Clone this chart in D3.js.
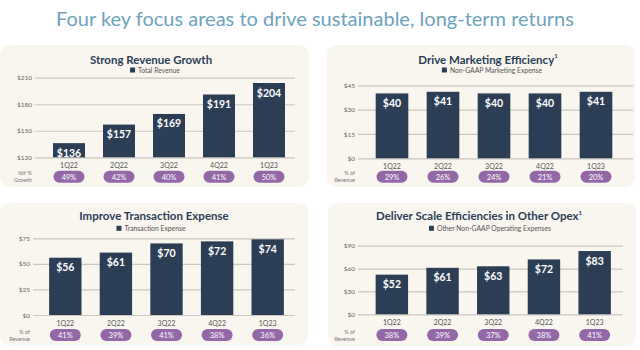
<!DOCTYPE html>
<html>
<head>
<meta charset="utf-8">
<script src="https://cdn.jsdelivr.net/npm/d3@7"></script>
<style>
  body { margin: 0; background: #ffffff; }
  svg { display: block; font-family: Lato, "Open Sans", sans-serif; }
</style>
</head>
<body>
<div id="chart-area"></div>
<script>
// data
var quarters = ["1Q22", "2Q22", "3Q22", "4Q22", "1Q23"];

var revenue = [136, 157, 169, 191, 204];
var revenueGrowth = ["49%", "42%", "40%", "41%", "50%"];
var revenueTicks = [120, 150, 180, 210];

var marketing = [40, 41, 40, 40, 41];
var marketingPct = ["29%", "26%", "24%", "21%", "20%"];
var marketingTicks = [0, 15, 30, 45];

var transaction = [56, 61, 70, 72, 74];
var transactionPct = ["41%", "39%", "41%", "38%", "36%"];
var transactionTicks = [0, 25, 50, 75];

var opex = [52, 61, 63, 72, 83];
var opexPct = ["38%", "39%", "37%", "38%", "41%"];
var opexTicks = [0, 30, 60, 90];

var navy = "#2b3e56";
var purple = "#9467a8";

var panels = [
  { title: "Strong Revenue Growth", sup: false, legend: "Total Revenue",
    values: revenue, pills: revenueGrowth, ticks: revenueTicks, rowLabel: ["YoY %", "Growth"],
    box: [0, 45, 309, 142], titleX: 151, legendX: 155, titleY: 59, legendY: 70,
    xr: [44, 294], yr: [157.3, 77.7], grid: [35, 295], pillY: 176.7 },
  { title: "Drive Marketing Efficiency", sup: true, legend: "Non-GAAP Marketing Expense",
    values: marketing, pills: marketingPct, ticks: marketingTicks, rowLabel: ["% of", "Revenue"],
    box: [327, 45, 308, 142], titleX: 488, legendX: 492, titleY: 59, legendY: 70,
    xr: [366.5, 621.5], yr: [158.3, 85.3], grid: [358, 633], pillY: 176.7 },
  { title: "Improve Transaction Expense", sup: false, legend: "Transaction Expense",
    values: transaction, pills: transactionPct, ticks: transactionTicks, rowLabel: ["% of", "Revenue"],
    box: [0, 203, 308, 142], titleX: 154, legendX: 151, titleY: 215.7, legendY: 228.3,
    xr: [40, 293], yr: [315, 238.3], grid: [33, 295], pillY: 335 },
  { title: "Deliver Scale Efficiencies in Other Opex", sup: true, legend: "Other Non-GAAP Operating Expenses",
    values: opex, pills: opexPct, ticks: opexTicks, rowLabel: ["% of", "Revenue"],
    box: [328, 203, 308, 143], titleX: 479, legendX: 490, titleY: 215.7, legendY: 228.3,
    xr: [366.5, 620], yr: [314.3, 245.7], grid: [358, 623], pillY: 335 }
];

var svg = d3.select("#chart-area")
  .append("svg")
  .attr("width", 640)
  .attr("height", 350);

svg.append("text")
  .attr("x", 315)
  .attr("y", 26)
  .attr("text-anchor", "middle")
  .attr("font-size", "20px")
  .style("fill", "#6ea3bd")
  .text("Four key focus areas to drive sustainable, long-term returns");

panels.forEach(function(p) {
  var g = svg.append("g");

  g.append("rect")
    .attr("x", p.box[0]).attr("y", p.box[1])
    .attr("width", p.box[2]).attr("height", p.box[3])
    .attr("rx", 9)
    .attr("fill", "#f9f6f0");

  var x = d3.scaleBand()
    .domain(quarters)
    .range(p.xr)
    .paddingInner(0.36)
    .paddingOuter(0.18);

  var y = d3.scaleLinear()
    .domain([p.ticks[0], p.ticks[p.ticks.length - 1]])
    .range(p.yr);

  // title
  var t = g.append("text")
    .attr("x", p.titleX)
    .attr("y", p.titleY)
    .attr("text-anchor", "middle")
    .attr("dominant-baseline", "central")
    .attr("font-size", "11.5px")
    .attr("font-weight", 700)
    .style("fill", navy)
    .text(p.title);
  if (p.sup) {
    t.append("tspan").attr("dy", -4).attr("font-size", "6px").text("1");
  }

  // legend
  var leg = g.append("text")
    .attr("x", p.legendX + 4)
    .attr("y", p.legendY)
    .attr("text-anchor", "middle")
    .attr("dominant-baseline", "central")
    .attr("font-size", "6.8px")
    .style("fill", "#555")
    .text(p.legend);
  var lw = leg.node().getComputedTextLength();
  g.append("rect")
    .attr("x", p.legendX + 4 - lw / 2 - 8)
    .attr("y", p.legendY - 2.5)
    .attr("width", 5).attr("height", 5)
    .attr("fill", navy);

  // y axis with gridlines
  var yAxisG = g.append("g")
    .attr("transform", "translate(" + p.grid[0] + ",0)")
    .call(d3.axisLeft(y)
      .tickValues(p.ticks)
      .tickSize(-(p.grid[1] - p.grid[0]))
      .tickPadding(3)
      .tickFormat(function(d) { return "$" + d; }));
  yAxisG.select(".domain").remove();
  yAxisG.selectAll(".tick line").style("stroke", "#c9c6c0").style("stroke-width", 1.2);
  yAxisG.selectAll("text")
    .attr("font-size", "6.5px")
    .attr("font-family", "Lato, sans-serif")
    .style("fill", "#666");

  // bars
  var bars = g.selectAll(".bar").data(p.values).enter();
  bars.append("rect")
    .attr("class", "bar")
    .attr("x", function(d, i) { return x(quarters[i]); })
    .attr("y", function(d) { return y(d); })
    .attr("width", x.bandwidth())
    .attr("height", function(d) { return p.yr[0] - y(d); })
    .attr("fill", navy);

  bars.append("text")
    .attr("x", function(d, i) { return x(quarters[i]) + x.bandwidth() / 2; })
    .attr("y", function(d) { return y(d) + 9.5; })
    .attr("text-anchor", "middle")
    .attr("dominant-baseline", "central")
    .attr("font-size", "10.5px")
    .attr("font-weight", 700)
    .style("fill", "white")
    .text(function(d) { return "$" + d; });

  // category labels
  g.selectAll(".cat").data(quarters).enter()
    .append("text")
    .attr("x", function(d) { return x(d) + x.bandwidth() / 2; })
    .attr("y", p.yr[0] + 7.5)
    .attr("text-anchor", "middle")
    .attr("dominant-baseline", "central")
    .attr("font-size", "7px")
    .style("fill", "#555")
    .text(function(d) { return d; });

  // pills
  g.selectAll(".pill").data(p.pills).enter()
    .append("rect")
    .attr("x", function(d, i) { return x(quarters[i]) + x.bandwidth() / 2 - 15.5; })
    .attr("y", p.pillY - 6)
    .attr("width", 31).attr("height", 12)
    .attr("rx", 6)
    .attr("fill", purple);

  g.selectAll(".pilltext").data(p.pills).enter()
    .append("text")
    .attr("x", function(d, i) { return x(quarters[i]) + x.bandwidth() / 2; })
    .attr("y", p.pillY + 0.5)
    .attr("text-anchor", "middle")
    .attr("dominant-baseline", "central")
    .attr("font-size", "7.5px")
    .style("fill", "white")
    .text(function(d) { return d; });

  // row label
  g.selectAll(".rowlab").data(p.rowLabel).enter()
    .append("text")
    .attr("x", p.grid[0] - 3)
    .attr("y", function(d, i) { return p.pillY - 3.5 + i * 7; })
    .attr("text-anchor", "end")
    .attr("dominant-baseline", "central")
    .attr("font-size", "5.5px")
    .style("fill", "#777")
    .text(function(d) { return d; });
});
</script>
</body>
</html>
